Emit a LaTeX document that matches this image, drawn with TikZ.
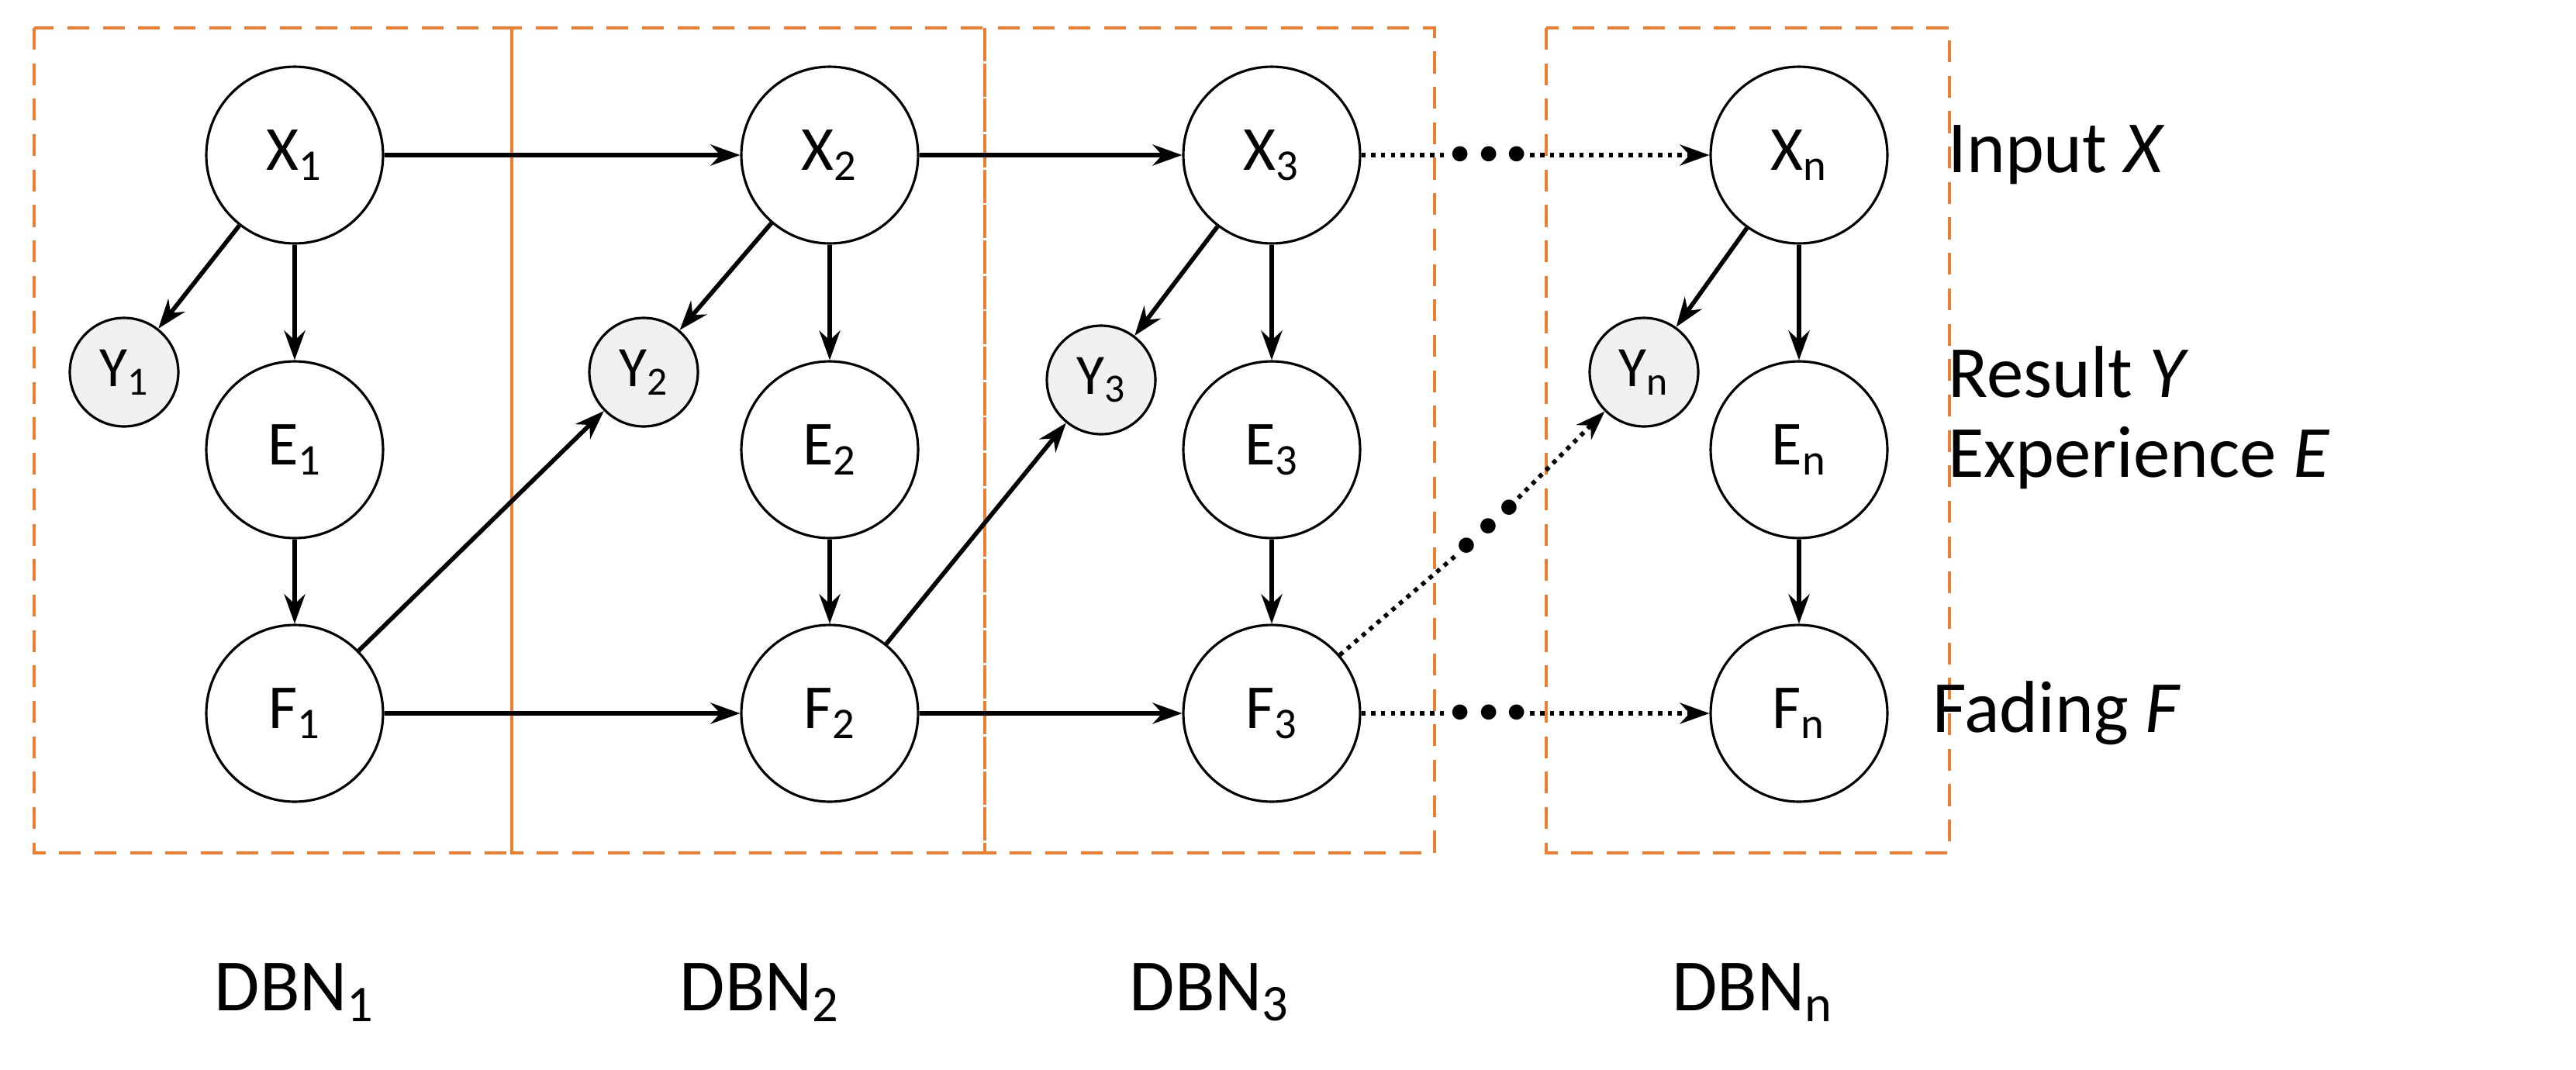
\documentclass[tikz,border=0pt]{standalone}
\usepackage{fontspec}
\setmainfont{Carlito}
\usetikzlibrary{arrows.meta}
\definecolor{boxorange}{RGB}{237,125,49}
\tikzset{
  big/.style={circle, draw, line width=0.9pt, minimum size=2.28cm, inner sep=0pt, font=\fontsize{23}{25}\selectfont},
  small/.style={circle, draw, fill=gray!12, line width=0.9pt, minimum size=1.4cm, inner sep=0pt, font=\fontsize{21}{23}\selectfont},
  arr/.style={-{Stealth[length=0.38cm,width=0.27cm]}, line width=1.6pt},
  dotarr/.style={arr, dotted, line width=1.6pt},
  dbn/.style={draw=boxorange, dashed, line width=1.3pt, dash pattern=on 8pt off 5pt},
  lbl/.style={font=\fontsize{27}{29}\selectfont},
  dots/.style={inner sep=1pt, fill=white, font=\fontsize{14}{14}\selectfont}
}
\begin{document}
\begin{tikzpicture}[x=0.02cm, y=-0.02cm]
  \useasboundingbox (0,0) rectangle (1661,690);
  % Dashed boxes
  \draw[dbn] (22,18) rectangle (330,550);
  \draw[dbn] (330,18) rectangle (635,550);
  \draw[dbn] (635,18) rectangle (925,550);
  \draw[dbn] (997,18) rectangle (1257,550);

  % Nodes
  \node[big] (x1) at (190,100) {X\textsubscript{1}};
  \node[big] (x2) at (535,100) {X\textsubscript{2}};
  \node[big] (x3) at (820,100) {X\textsubscript{3}};
  \node[big] (xn) at (1160,100) {X\textsubscript{n}};
  \node[small] (y1) at (80,240) {Y\textsubscript{1}};
  \node[small] (y2) at (415,240) {Y\textsubscript{2}};
  \node[small] (y3) at (710,245) {Y\textsubscript{3}};
  \node[small] (yn) at (1060,240) {Y\textsubscript{n}};
  \node[big] (e1) at (190,290) {E\textsubscript{1}};
  \node[big] (e2) at (535,290) {E\textsubscript{2}};
  \node[big] (e3) at (820,290) {E\textsubscript{3}};
  \node[big] (en) at (1160,290) {E\textsubscript{n}};
  \node[big] (f1) at (190,460) {F\textsubscript{1}};
  \node[big] (f2) at (535,460) {F\textsubscript{2}};
  \node[big] (f3) at (820,460) {F\textsubscript{3}};
  \node[big] (fn) at (1160,460) {F\textsubscript{n}};
  \node[dots] (dx) at (960,100) {$\bullet\bullet\bullet$};
  \node[dots, rotate=42] (dy) at (960,340) {$\bullet\bullet\bullet$};
  \node[dots] (df) at (960,460) {$\bullet\bullet\bullet$};

  % Arrows
  \draw[arr] (x1) -- (x2);
  \draw[arr] (x2) -- (x3);
  \draw[dotted, line width=1.6pt] (x3) -- (dx);
  \draw[dotarr] (dx) -- (xn);
  \draw[arr] (f1) -- (f2);
  \draw[arr] (f2) -- (f3);
  \draw[dotted, line width=1.6pt] (f3) -- (df);
  \draw[dotarr] (df) -- (fn);
  \draw[arr] (f1) -- (y2);
  \draw[arr] (f2) -- (y3);
  \draw[dotted, line width=1.6pt] (f3) -- (dy);
  \draw[dotarr] (dy) -- (yn);
  \foreach \i in {1,2,3,n}{
    \draw[arr] (x\i) -- (y\i);
    \draw[arr] (x\i) -- (e\i);
    \draw[arr] (e\i) -- (f\i);
  }

  % Labels
  \node[lbl, anchor=west] (lx) at (1250,100) {Input \textit{X}};
  \node[lbl, anchor=west] (ly) at (1250,240) {Result \textit{Y}};
  \node[lbl, anchor=west] (le) at (1250,295) {Experience \textit{E}};
  \node[lbl, anchor=west] (lf) at (1240,460) {Fading \textit{F}};
  \node[lbl] (d1) at (190,640) {DBN\textsubscript{1}};
  \node[lbl] (d2) at (490,640) {DBN\textsubscript{2}};
  \node[lbl] (d3) at (780,640) {DBN\textsubscript{3}};
  \node[lbl] (dn) at (1130,640) {DBN\textsubscript{n}};
\end{tikzpicture}
\end{document}
